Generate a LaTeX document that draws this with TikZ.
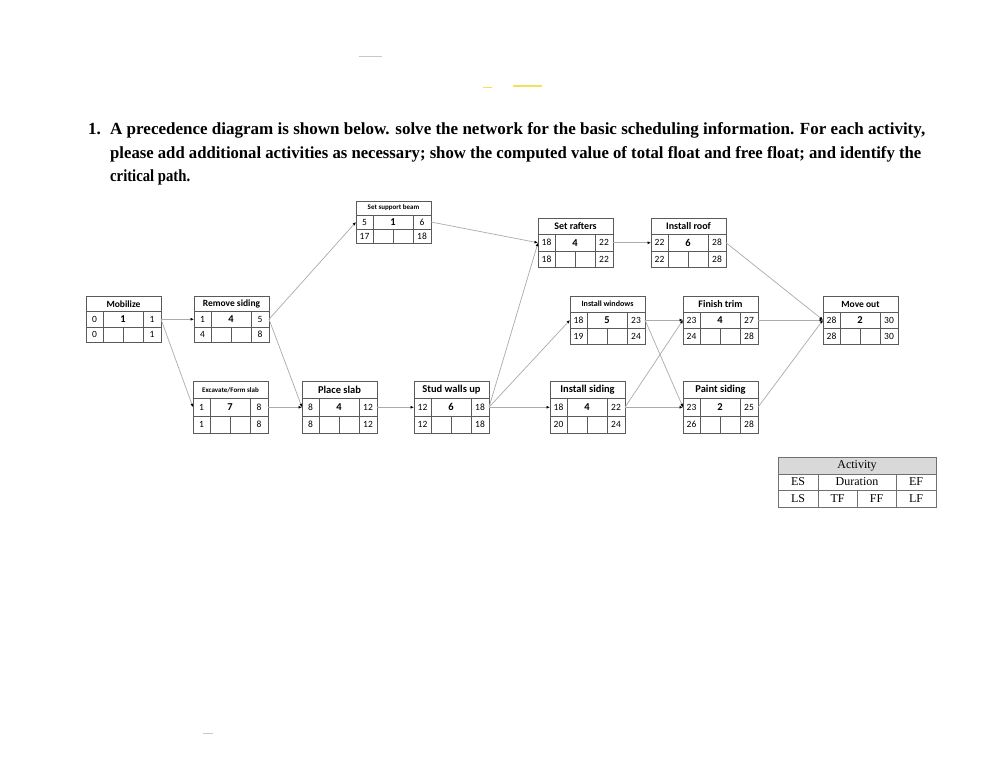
\documentclass[tikz,border=0pt]{standalone}
\usepackage{fontspec}
\usepackage{graphicx}
\setmainfont{Liberation Serif}
\newfontfamily\calfont{Carlito}
\usetikzlibrary{arrows.meta}
\definecolor{boxline}{HTML}{5A5A5A}
\definecolor{conn}{HTML}{ABABAB}
\definecolor{legfill}{HTML}{D9D9D9}
\definecolor{leglinec}{HTML}{707070}
\definecolor{artgray}{HTML}{C8C8C8}
\definecolor{artyellow}{HTML}{F2E15A}
\tikzset{
  actbox/.style={draw=boxline, line width=0.8pt, inner sep=0pt, outer sep=0pt, anchor=north west, minimum width=75pt},
  gridln/.style={draw=boxline, line width=0.8pt},
  num/.style={font=\calfont\fontsize{9.5}{10}\selectfont, inner sep=0pt},
  dur/.style={font=\calfont\bfseries\fontsize{10.5}{11}\selectfont, inner sep=0pt},
  ttl/.style={inner sep=0pt, font=\calfont\bfseries},
  link/.style={draw=conn, line width=0.7pt, -{Latex[length=3.5pt,width=3pt,color=black]}},
  legtxt/.style={inner sep=0pt, font=\fontsize{12}{13}\selectfont},
  qtxt/.style={anchor=base west, inner sep=0pt, font=\bfseries\fontsize{17}{19}\selectfont},
}
% #1 name, #2 x, #3 y, #4 row height, #5 title, #6 {ES}{Dur}{EF}, #7 {LS}{LF}
\newcommand\actrowA[7]{%
  \node[num] (#1-es) at ({#2+8.5},{#3+1.5*#4}) {#5};
  \node[dur] (#1-du) at ({#2+37},{#3+1.5*#4}) {#6};
  \node[num] (#1-ef) at ({#2+66},{#3+1.5*#4}) {#7};}
\newcommand\actrowB[6]{%
  \node[num] (#1-ls) at ({#2+8.5},{#3+2.5*#4}) {#5};
  \node[num] (#1-lf) at ({#2+66},{#3+2.5*#4}) {#6};}
\newcommand\act[7]{%
  \node[actbox, minimum height={3*#4pt}] (#1) at (#2,#3) {};
  \draw[gridln] (#2,{#3+#4}) -- ++(75,0);
  \draw[gridln] (#2,{#3+2*#4}) -- ++(75,0);
  \draw[gridln] ({#2+17},{#3+#4}) -- ++(0,{2*#4});
  \draw[gridln] ({#2+57},{#3+#4}) -- ++(0,{2*#4});
  \draw[gridln] ({#2+37},{#3+2*#4}) -- ++(0,#4);
  \node[ttl] (#1-t) at ({#2+37.5},{#3+0.5*#4}) {#5};
  \actrowA{#1}{#2}{#3}{#4}#6
  \actrowB{#1}{#2}{#3}{#4}#7
  \coordinate (#1-in) at (#2,{#3+1.5*#4});
  \coordinate (#1-out) at ({#2+75},{#3+1.5*#4});
}
\begin{document}
\begin{tikzpicture}[x=1pt,y=-1pt]
\fill[white] (0,0) rectangle (1006,770);
\useasboundingbox (0,0) rectangle (1006,770);

% scan artifacts
\draw[artgray, line width=1pt] (359,57) -- (382,57);
\draw[artyellow, line width=1.3pt] (513,86) -- (542,86);
\draw[artyellow, line width=1pt] (483,88) -- (492,88);
\draw[artgray, line width=1pt] (203,733) -- (213,733);

% question text
\node[qtxt] (qn) at (88,135) {1.};
\node[qtxt] (q1) at (110,135) {\resizebox{815pt}{\height}{A precedence diagram is shown below. solve the network for the basic scheduling information. For each activity,}};
\node[qtxt] (q2) at (110,159) {\resizebox{811pt}{\height}{please add additional activities as necessary; show the computed value of total float and free float; and identify the}};
\node[qtxt] (q3) at (110,182) {\resizebox{80pt}{\height}{critical path.}};

% activities
\act{mob}{86}{296}{15.5}{\fontsize{9.5}{10}\selectfont Mobilize}{{0}{1}{1}}{{0}{1}}
\act{rem}{194}{296}{15.5}{\fontsize{9.5}{10}\selectfont Remove siding}{{1}{4}{5}}{{4}{8}}
\act{ssb}{356}{201}{14}{\fontsize{7}{8}\selectfont Set support beam}{{5}{1}{6}}{{17}{18}}
\act{raf}{538}{218}{16.5}{\fontsize{10}{11}\selectfont Set rafters}{{18}{4}{22}}{{18}{22}}
\act{roof}{651}{218}{16.5}{\fontsize{10}{11}\selectfont Install roof}{{22}{6}{28}}{{22}{28}}
\act{win}{570}{296}{16}{\fontsize{8}{9}\selectfont Install windows}{{18}{5}{23}}{{19}{24}}
\act{trim}{683}{296}{16}{\fontsize{10}{11}\selectfont Finish trim}{{23}{4}{27}}{{24}{28}}
\act{move}{823}{296}{16}{\fontsize{9.5}{10}\selectfont Move out}{{28}{2}{30}}{{28}{30}}
\act{exc}{193}{381}{17.5}{\fontsize{7}{8}\selectfont Excavate/Form slab}{{1}{7}{8}}{{1}{8}}
\act{slab}{302}{381}{17.5}{\fontsize{10.5}{11}\selectfont Place slab}{{8}{4}{12}}{{8}{12}}
\act{stud}{414}{381}{17.5}{\fontsize{10.5}{11}\selectfont Stud walls up}{{12}{6}{18}}{{12}{18}}
\act{sid}{550}{381}{17.5}{\fontsize{10.5}{11}\selectfont Install siding}{{18}{4}{22}}{{20}{24}}
\act{paint}{683}{381}{17.5}{\fontsize{10.5}{11}\selectfont Paint siding}{{23}{2}{25}}{{26}{28}}

% connectors
\draw[link] (mob-out) -- (rem-in);
\draw[link] (mob-out) -- (exc-in);
\draw[link] (rem-out) -- (ssb-in);
\draw[link] (rem-out) -- (slab-in);
\draw[link] (exc-out) -- (slab-in);
\draw[link] (slab-out) -- (stud-in);
\draw[link] (ssb-out) -- (raf-in);
\draw[link] (stud-out) -- (raf-in);
\draw[link] (stud-out) -- (win-in);
\draw[link] (stud-out) -- (sid-in);
\draw[link] (raf-out) -- (roof-in);
\draw[link] (roof-out) -- (move-in);
\draw[link] (win-out) -- (trim-in);
\draw[link] (win-out) -- (paint-in);
\draw[link] (sid-out) -- (trim-in);
\draw[link] (sid-out) -- (paint-in);
\draw[link] (trim-out) -- (move-in);
\draw[link] (paint-out) -- (move-in);

% legend
\fill[legfill] (778,457) rectangle (936,474);
\node[draw=leglinec, line width=0.8pt, anchor=north west, minimum width=158pt, minimum height=50pt, inner sep=0pt] (leg) at (778,457) {};
\draw[leglinec, line width=0.8pt] (778,474) -- (936,474);
\draw[leglinec, line width=0.8pt] (778,490.5) -- (936,490.5);
\draw[leglinec, line width=0.8pt] (818,474) -- (818,507);
\draw[leglinec, line width=0.8pt] (896,474) -- (896,507);
\draw[leglinec, line width=0.8pt] (857,490.5) -- (857,507);
\node[legtxt] (lg-a) at (857,465.5) {Activity};
\node[legtxt] (lg-es) at (798,482) {ES};
\node[legtxt] (lg-du) at (857,482) {Duration};
\node[legtxt] (lg-ef) at (916,482) {EF};
\node[legtxt] (lg-ls) at (798,499) {LS};
\node[legtxt] (lg-tf) at (837.5,499) {TF};
\node[legtxt] (lg-ff) at (876.5,499) {FF};
\node[legtxt] (lg-lf) at (916,499) {LF};
\end{tikzpicture}
\end{document}
